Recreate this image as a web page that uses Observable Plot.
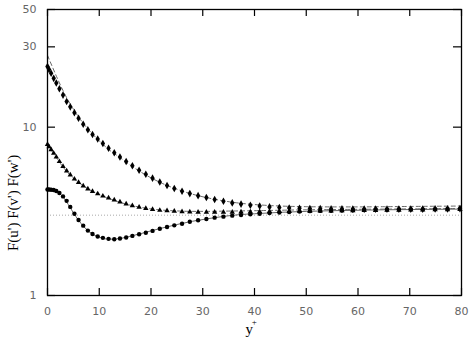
<!DOCTYPE html>
<html>
<head>
<meta charset="utf-8">
<script src="https://cdn.jsdelivr.net/npm/d3@7"></script>
<script src="https://cdn.jsdelivr.net/npm/@observablehq/plot@0.6"></script>
<style>
  html, body { margin: 0; padding: 0; background: #fff; }
</style>
</head>
<body>
<div id="chart"></div>
<script>
// marker positions (y+)
const gridX = [0, 0.3, 0.7, 1.2, 1.7, 2.3, 3.0, 3.7, 4.4, 5.2, 6.0, 6.9, 7.8, 8.7, 9.7, 10.7, 11.8, 12.9, 14.0, 15.2, 16.4, 17.7, 19.0, 20.3, 21.7, 23.1, 24.5, 26.0, 27.5, 29.1, 30.7, 32.3, 34.0, 35.7, 37.4, 39.2, 41.0, 42.9, 44.8, 46.7, 48.7, 50.7, 52.7, 54.8, 56.9, 59.0, 61.2, 63.4, 65.6, 67.9, 70.2, 72.5, 74.9, 77.3, 79.7];
// diamonds
const seriesDiamond = [22.9, 22.0, 20.9, 19.5, 18.3, 16.9, 15.5, 14.2, 13.2, 12.2, 11.3, 10.4, 9.65, 9.05, 8.5, 8.0, 7.5, 7.05, 6.65, 6.25, 5.9, 5.55, 5.25, 4.98, 4.72, 4.5, 4.32, 4.16, 4.03, 3.92, 3.82, 3.72, 3.63, 3.55, 3.49, 3.44, 3.4, 3.36, 3.33, 3.31, 3.3, 3.29, 3.28, 3.27, 3.27, 3.26, 3.26, 3.26, 3.26, 3.26, 3.26, 3.26, 3.27, 3.27, 3.28];
// triangles
const seriesTriangle = [7.9, 7.65, 7.35, 7.0, 6.65, 6.25, 5.85, 5.5, 5.2, 4.92, 4.7, 4.48, 4.3, 4.15, 4.02, 3.9, 3.8, 3.7, 3.6, 3.5, 3.42, 3.35, 3.29, 3.25, 3.21, 3.19, 3.17, 3.15, 3.14, 3.13, 3.13, 3.13, 3.13, 3.13, 3.14, 3.14, 3.15, 3.15, 3.16, 3.16, 3.17, 3.17, 3.18, 3.18, 3.19, 3.19, 3.2, 3.2, 3.21, 3.21, 3.22, 3.22, 3.23, 3.23, 3.24];
// circles
const seriesCircle = [4.26, 4.26, 4.25, 4.23, 4.18, 4.06, 3.88, 3.65, 3.36, 3.06, 2.81, 2.6, 2.43, 2.32, 2.24, 2.2, 2.17, 2.16, 2.18, 2.21, 2.26, 2.31, 2.36, 2.42, 2.49, 2.55, 2.61, 2.67, 2.74, 2.8, 2.85, 2.9, 2.94, 2.98, 3.01, 3.04, 3.06, 3.09, 3.11, 3.13, 3.15, 3.17, 3.18, 3.19, 3.2, 3.21, 3.22, 3.23, 3.23, 3.24, 3.25, 3.25, 3.26, 3.27, 3.27];

// reference curves
const lineX = [0, 1, 2, 3, 4, 5, 6, 8, 10, 12, 14, 16, 18, 20, 22, 25, 28, 31, 34, 37, 40, 45, 50, 55, 60, 65, 70, 75, 80];
const lineTop = [26.7, 22.6, 19.2, 16.5, 14.4, 12.8, 11.5, 9.6, 8.3, 7.3, 6.6, 5.95, 5.42, 5.0, 4.66, 4.28, 4.0, 3.8, 3.65, 3.54, 3.47, 3.4, 3.37, 3.36, 3.36, 3.37, 3.38, 3.39, 3.4];
const lineMid = [7.9, 7.1, 6.4, 5.8, 5.33, 4.97, 4.7, 4.27, 3.98, 3.76, 3.58, 3.44, 3.34, 3.27, 3.22, 3.18, 3.16, 3.16, 3.17, 3.18, 3.19, 3.21, 3.23, 3.24, 3.25, 3.26, 3.27, 3.28, 3.29];
const lineBot = [4.3, 4.26, 4.1, 3.85, 3.48, 3.1, 2.8, 2.4, 2.22, 2.16, 2.18, 2.25, 2.33, 2.42, 2.51, 2.64, 2.76, 2.86, 2.95, 3.02, 3.06, 3.12, 3.16, 3.19, 3.21, 3.23, 3.24, 3.25, 3.26];
const gaussValue = 3;

const xTicks = [0, 10, 20, 30, 40, 50, 60, 70, 80];
const yTicks = [1, 10, 30, 50];
const yLabel = "F(u') F(v') F(w')";
const xLabel = "y";
const xLabelSup = "+";

const pts = (ys) => gridX.map((x, i) => ({x, y: ys[i]}));
const lns = (ys) => lineX.map((x, i) => ({x, y: ys[i]}));

const W = 474, H = 340;
const mL = 47, mR = 13, mT = 9, mB = 45;
const innerH = H - mT - mB, innerW = W - mL - mR;
const tl = 7;

const chart = Plot.plot({
  width: W, height: H,
  marginLeft: mL, marginRight: mR, marginTop: mT, marginBottom: mB,
  style: {fontFamily: "DejaVu Sans", fontSize: "11px", background: "#fff"},
  x: {domain: [0, 80]},
  y: {type: "log", domain: [1, 50]},
  marks: [
    Plot.ruleY([gaussValue], {stroke: "#aaa", strokeWidth: 1, strokeDasharray: "1,2"}),
    Plot.line(lns(lineTop), {x: "x", y: "y", stroke: "#444", strokeWidth: 0.8, strokeDasharray: "4,3", curve: "monotone-x"}),
    Plot.line(lns(lineMid), {x: "x", y: "y", stroke: "#444", strokeWidth: 0.8, strokeDasharray: "4,3", curve: "monotone-x"}),
    Plot.line(lns(lineBot), {x: "x", y: "y", stroke: "#666", strokeWidth: 1, curve: "monotone-x"}),
    Plot.dot(pts(seriesDiamond), {x: "x", y: "y", symbol: "diamond", r: 2.3, fill: "#000", stroke: "none"}),
    Plot.dot(pts(seriesTriangle), {x: "x", y: "y", symbol: "triangle", r: 2.0, fill: "#000", stroke: "none"}),
    Plot.dot(pts(seriesCircle), {x: "x", y: "y", symbol: "circle", r: 2.2, fill: "#000", stroke: "none"}),
    // inward ticks
    Plot.tickX(xTicks, {x: d => d, insetTop: innerH - tl, stroke: "#000", strokeWidth: 1.2}),
    Plot.tickX(xTicks, {x: d => d, insetBottom: innerH - tl, stroke: "#000", strokeWidth: 1.2}),
    Plot.tickY(yTicks, {y: d => d, insetRight: innerW - tl - 1, stroke: "#000", strokeWidth: 1.2}),
    Plot.tickY(yTicks, {y: d => d, insetLeft: innerW - tl - 1, stroke: "#000", strokeWidth: 1.2}),
    Plot.frame({stroke: "#000", strokeWidth: 1.3}),
    Plot.axisX({ticks: xTicks, tickSize: 0, tickPadding: 12, tickFormat: d => d, label: null, fill: "#666"}),
    Plot.axisY({ticks: yTicks, tickSize: 0, tickPadding: 11, tickFormat: d => d, label: null, fill: "#666"}),
    Plot.text([yLabel], {x: () => 0, y: () => 3.55, dx: -34, rotate: -90, fontFamily: "Liberation Serif", fontSize: 15, fill: "#000"}),
    Plot.text([xLabel], {x: () => 39.0, y: () => 1, dy: 34, fontFamily: "Liberation Serif", fontSize: 15, fill: "#000"}),
    Plot.text([xLabelSup], {x: () => 39.0, y: () => 1, dx: 5, dy: 27, fontFamily: "Liberation Serif", fontSize: 9, fill: "#000"})
  ]
});
document.getElementById("chart").appendChild(chart);
</script>
</body>
</html>
